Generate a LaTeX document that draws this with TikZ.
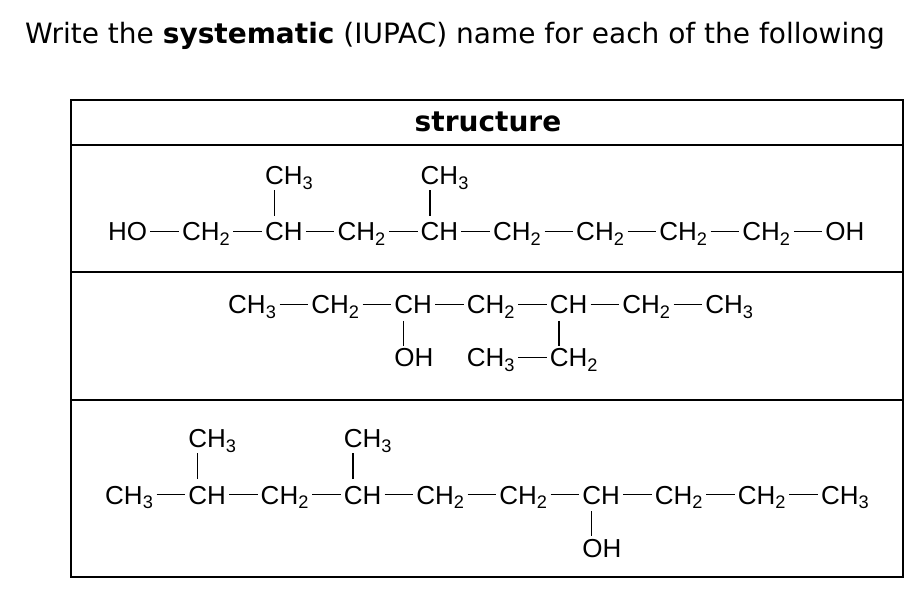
\documentclass[tikz,border=0pt]{standalone}
\usepackage{fontspec}
\setmainfont{Liberation Sans}
\newfontfamily\titlefont{DejaVu Sans}
\usetikzlibrary{calc}
\newcommand\bg{34.5}
\tikzset{grp/.style={inner sep=0pt,font=\fontsize{26}{26}\selectfont,anchor=base west},
 bond/.style={line width=1.4pt},
 frame/.style={line width=1.3pt}}
\newcommand\grp[3]{\node[grp] (#1) at ($(#2.base east)+(\bg,0)$) {#3};
 \draw[bond] ($(#2.base east)+(3,9.3)$) -- ($(#1.base west)+(-3,9.3)$);}
\newcommand\up[3]{\node[grp] (#1) at ($(#2.base west)+(0,56)$) {#3};
 \draw[bond] ($(#2.base west)+(9.5,25)$) -- ($(#2.base west)+(9.5,51)$);}
\newcommand\down[3]{\node[grp] (#1) at ($(#2.base west)+(0,-53)$) {#3};
 \draw[bond] ($(#2.base west)+(9.5,-7)$) -- ($(#2.base west)+(9.5,-32)$);}
\newcommand\CHt{CH\textsubscript{3}}
\newcommand\CHd{CH\textsubscript{2}}
\begin{document}
\begin{tikzpicture}[x=1pt,y=1pt]
\useasboundingbox (0,0) rectangle (906,598);
\node[anchor=base west,inner sep=0,font=\titlefont\fontsize{28}{28}\selectfont] (title) at (25,598-44) {Write the \textbf{systematic} (IUPAC) name for each of the following};
\draw[frame] (71,598-100) rectangle (903,598-577);
\draw[frame] (71,598-145) -- (903,598-145);
\draw[frame] (71,598-272) -- (903,598-272);
\draw[frame] (71,598-400) -- (903,598-400);
\node[anchor=base,inner sep=0,font=\titlefont\bfseries\fontsize{28}{28}\selectfont] (hdr) at (488,598-132) {structure};
% row 1
\node[grp] (a0) at (108,598-241) {HO};
\grp{a1}{a0}{\CHd}
\grp{a2}{a1}{CH}
\grp{a3}{a2}{\CHd}
\grp{a4}{a3}{CH}
\grp{a5}{a4}{\CHd}
\grp{a6}{a5}{\CHd}
\grp{a7}{a6}{\CHd}
\grp{a8}{a7}{\CHd}
\grp{a9}{a8}{OH}
\up{a2u}{a2}{\CHt}
\up{a4u}{a4}{\CHt}
% row 2
\node[grp] (b0) at (228,598-314) {\CHt};
\grp{b1}{b0}{\CHd}
\grp{b2}{b1}{CH}
\grp{b3}{b2}{\CHd}
\grp{b4}{b3}{CH}
\grp{b5}{b4}{\CHd}
\grp{b6}{b5}{\CHt}
\down{b2d}{b2}{OH}
\down{b4d}{b4}{\CHd}
\node[grp,anchor=base east] (b4f) at ($(b4d.base west)+(-\bg,0)$) {\CHt};
\draw[bond] ($(b4f.base east)+(3,9.3)$) -- ($(b4d.base west)+(-3,9.3)$);
% row 3
\node[grp] (c0) at (105,598-504) {\CHt};
\grp{c1}{c0}{CH}
\grp{c2}{c1}{\CHd}
\grp{c3}{c2}{CH}
\grp{c4}{c3}{\CHd}
\grp{c5}{c4}{\CHd}
\grp{c6}{c5}{CH}
\grp{c7}{c6}{\CHd}
\grp{c8}{c7}{\CHd}
\grp{c9}{c8}{\CHt}
\up{c1u}{c1}{\CHt}
\up{c3u}{c3}{\CHt}
\down{c6d}{c6}{OH}
\end{tikzpicture}
\end{document}
